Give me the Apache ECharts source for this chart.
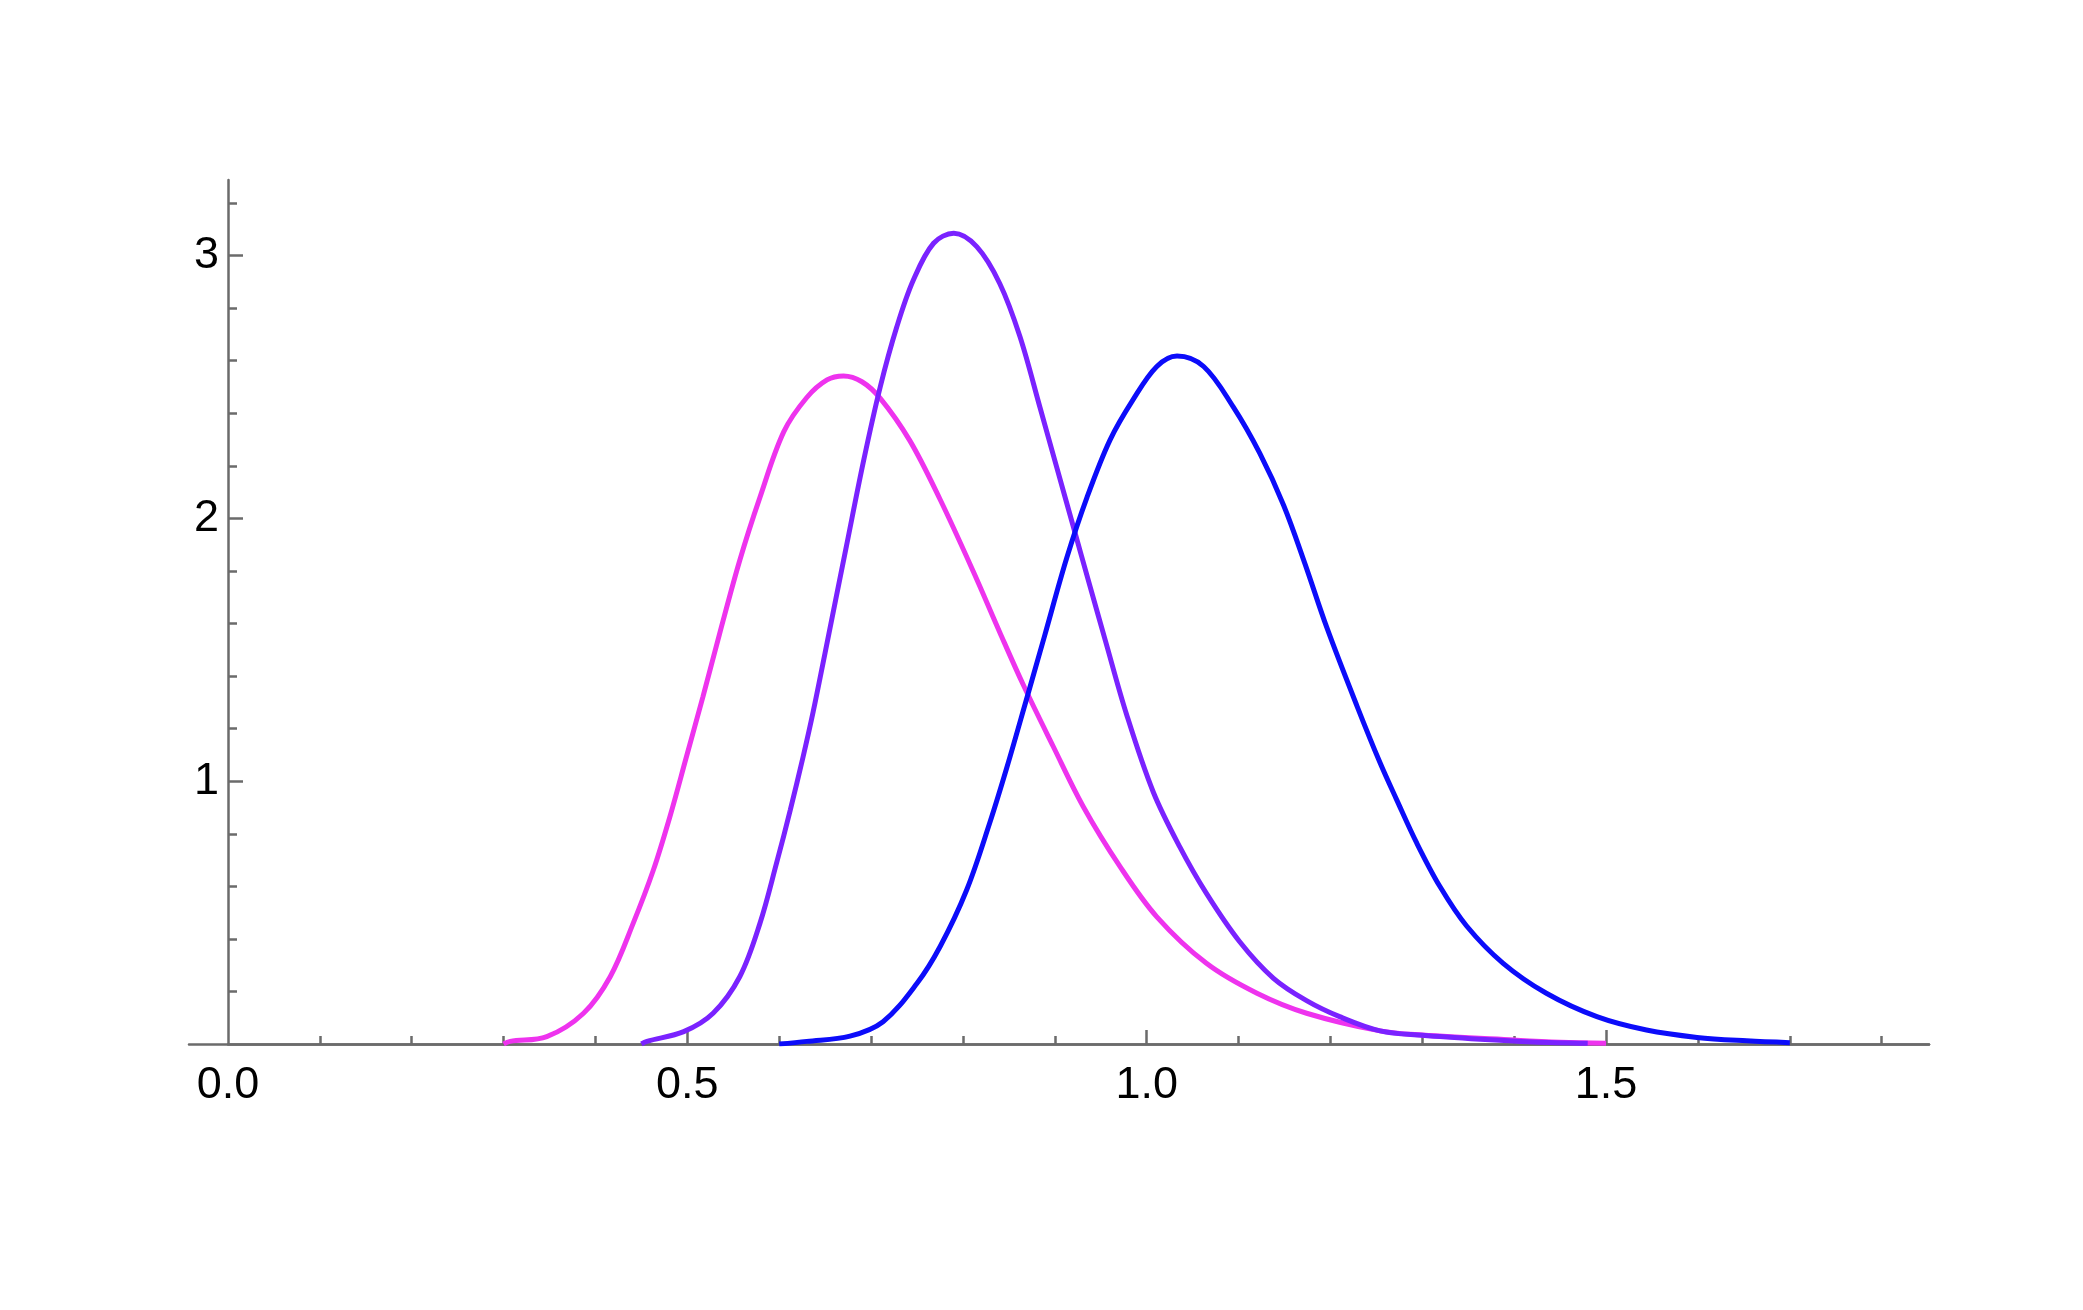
<!DOCTYPE html>
<html>
<head>
<meta charset="utf-8">
<script src="https://cdn.jsdelivr.net/npm/echarts@6/dist/echarts.min.js"></script>
<style>
    html, body { margin: 0; padding: 0; background: #fff; }
    #chart { width: 2083px; height: 1310px; }
</style>
</head>
<body>
<div id="chart"></div>
<script>
// values, [x, y]
var magentaCurve = [
    [0.30, 0.0], [0.307, 0.01], [0.347, 0.028], [0.387, 0.117], [0.416, 0.256], [0.441, 0.459],
    [0.463, 0.662], [0.481, 0.865], [0.499, 1.093], [0.517, 1.322], [0.535, 1.56], [0.557, 1.84],
    [0.579, 2.08], [0.605, 2.33], [0.630, 2.46], [0.652, 2.527], [0.670, 2.542], [0.690, 2.52],
    [0.710, 2.457], [0.742, 2.297], [0.775, 2.073], [0.811, 1.80], [0.840, 1.567], [0.866, 1.364],
    [0.898, 1.134], [0.931, 0.903], [0.971, 0.675], [1.011, 0.484], [1.065, 0.307], [1.120, 0.193],
    [1.174, 0.117], [1.254, 0.05], [1.30, 0.034], [1.40, 0.015], [1.45, 0.007], [1.50, 0.003]
];
var purpleCurve = [
    [0.45, 0.0], [0.456, 0.01], [0.496, 0.047], [0.528, 0.117], [0.557, 0.256], [0.579, 0.459],
    [0.597, 0.687], [0.612, 0.890], [0.626, 1.093], [0.637, 1.265], [0.650, 1.49], [0.673, 1.892],
    [0.692, 2.222], [0.710, 2.501], [0.728, 2.729], [0.746, 2.907], [0.768, 3.047], [0.790, 3.085],
    [0.815, 3.034], [0.840, 2.894], [0.862, 2.692], [0.884, 2.42], [0.902, 2.195], [0.920, 1.97],
    [0.938, 1.745], [0.955, 1.535], [0.978, 1.255], [1.007, 0.96], [1.036, 0.75], [1.065, 0.573],
    [1.101, 0.39], [1.138, 0.25], [1.174, 0.165], [1.210, 0.104], [1.254, 0.05], [1.30, 0.033],
    [1.363, 0.018], [1.42, 0.008], [1.48, 0.003]
];
var blueCurve = [
    [0.60, 0.0], [0.630, 0.01], [0.677, 0.03], [0.713, 0.085], [0.750, 0.231], [0.775, 0.37],
    [0.804, 0.586], [0.829, 0.840], [0.848, 1.055], [0.869, 1.31], [0.889, 1.555], [0.913, 1.85],
    [0.935, 2.08], [0.960, 2.298], [0.985, 2.451], [1.011, 2.578], [1.033, 2.618], [1.062, 2.578],
    [1.094, 2.425], [1.123, 2.248], [1.149, 2.05], [1.172, 1.83], [1.196, 1.585], [1.229, 1.285],
    [1.254, 1.07], [1.272, 0.93], [1.294, 0.764], [1.319, 0.60], [1.348, 0.45], [1.388, 0.307],
    [1.435, 0.193], [1.490, 0.104], [1.544, 0.053], [1.599, 0.025], [1.653, 0.012], [1.70, 0.005]
];

var xLabels = [0, 0.5, 1.0, 1.5];
var xMajorTicks = [0.5, 1.0, 1.5];
var xMinorTicks = [0.1, 0.2, 0.3, 0.4, 0.6, 0.7, 0.8, 0.9, 1.1, 1.2, 1.3, 1.4, 1.6, 1.7, 1.8];
var yLabels = [1, 2, 3];
var yMinorTicks = [0.2, 0.4, 0.6, 0.8, 1.2, 1.4, 1.6, 1.8, 2.2, 2.4, 2.6, 2.8, 3.2];

var axisColor = '#6b6b6b';
var labelFont = { color: '#000', fontSize: 45, fontFamily: '"Liberation Sans", Arial, sans-serif' };

var myChart = echarts.init(document.getElementById('chart'));

var option = {
    backgroundColor: '#fff',
    animation: false,
    grid: [
        { left: 228, right: 154, top: 180, bottom: 266 },
        // only carries the bit of x axis that sticks out left of the y axis
        { left: 189, right: 154, top: 180, bottom: 266 }
    ],
    xAxis: [
        {
            gridIndex: 0, type: 'value', min: 0, max: 1.8515, position: 'bottom',
            axisLine: { show: true, lineStyle: { color: axisColor, width: 2.5 } },
            axisTick: { show: true, inside: true, length: 14, customValues: xMajorTicks, lineStyle: { color: axisColor, width: 2.5 } },
            axisLabel: Object.assign({
                margin: 19, customValues: xLabels,
                formatter: function (v) { return v.toFixed(1); }
            }, labelFont),
            splitLine: { show: false }
        },
        {
            gridIndex: 0, type: 'value', min: 0, max: 1.8515, position: 'bottom',
            axisLine: { show: false },
            axisTick: { show: true, inside: true, length: 8, customValues: xMinorTicks, lineStyle: { color: axisColor, width: 2.5 } },
            axisLabel: { show: false },
            splitLine: { show: false }
        },
        {
            gridIndex: 1, type: 'value', min: -0.0425, max: 1.8515, position: 'bottom',
            axisLine: { show: true, lineStyle: { color: axisColor, width: 2.5 } },
            axisTick: { show: false },
            axisLabel: { show: false },
            splitLine: { show: false }
        }
    ],
    yAxis: [
        {
            gridIndex: 0, type: 'value', min: 0, max: 3.2877, position: 'left',
            axisLine: { show: true, lineStyle: { color: axisColor, width: 2.5 } },
            axisTick: { show: true, inside: true, length: 15, customValues: yLabels, lineStyle: { color: axisColor, width: 2.5 } },
            axisLabel: Object.assign({ margin: 9, padding: [10, 0, 0, 0], customValues: yLabels }, labelFont),
            splitLine: { show: false }
        },
        {
            gridIndex: 0, type: 'value', min: 0, max: 3.2877, position: 'left',
            axisLine: { show: false },
            axisTick: { show: true, inside: true, length: 9, customValues: yMinorTicks, lineStyle: { color: axisColor, width: 2.5 } },
            axisLabel: { show: false },
            splitLine: { show: false }
        },
        {
            gridIndex: 1, type: 'value', min: 0, max: 1, show: false
        }
    ],
    series: [
        {
            type: 'line', xAxisIndex: 0, yAxisIndex: 0, data: magentaCurve,
            showSymbol: false, smooth: 0.35,
            lineStyle: { color: '#ee33ee', width: 5 }
        },
        {
            type: 'line', xAxisIndex: 0, yAxisIndex: 0, data: purpleCurve,
            showSymbol: false, smooth: 0.35,
            lineStyle: { color: '#7a22ff', width: 5 }
        },
        {
            type: 'line', xAxisIndex: 0, yAxisIndex: 0, data: blueCurve,
            showSymbol: false, smooth: 0.35,
            lineStyle: { color: '#0c0cfa', width: 5 }
        }
    ]
};

myChart.setOption(option);
</script>
</body>
</html>
